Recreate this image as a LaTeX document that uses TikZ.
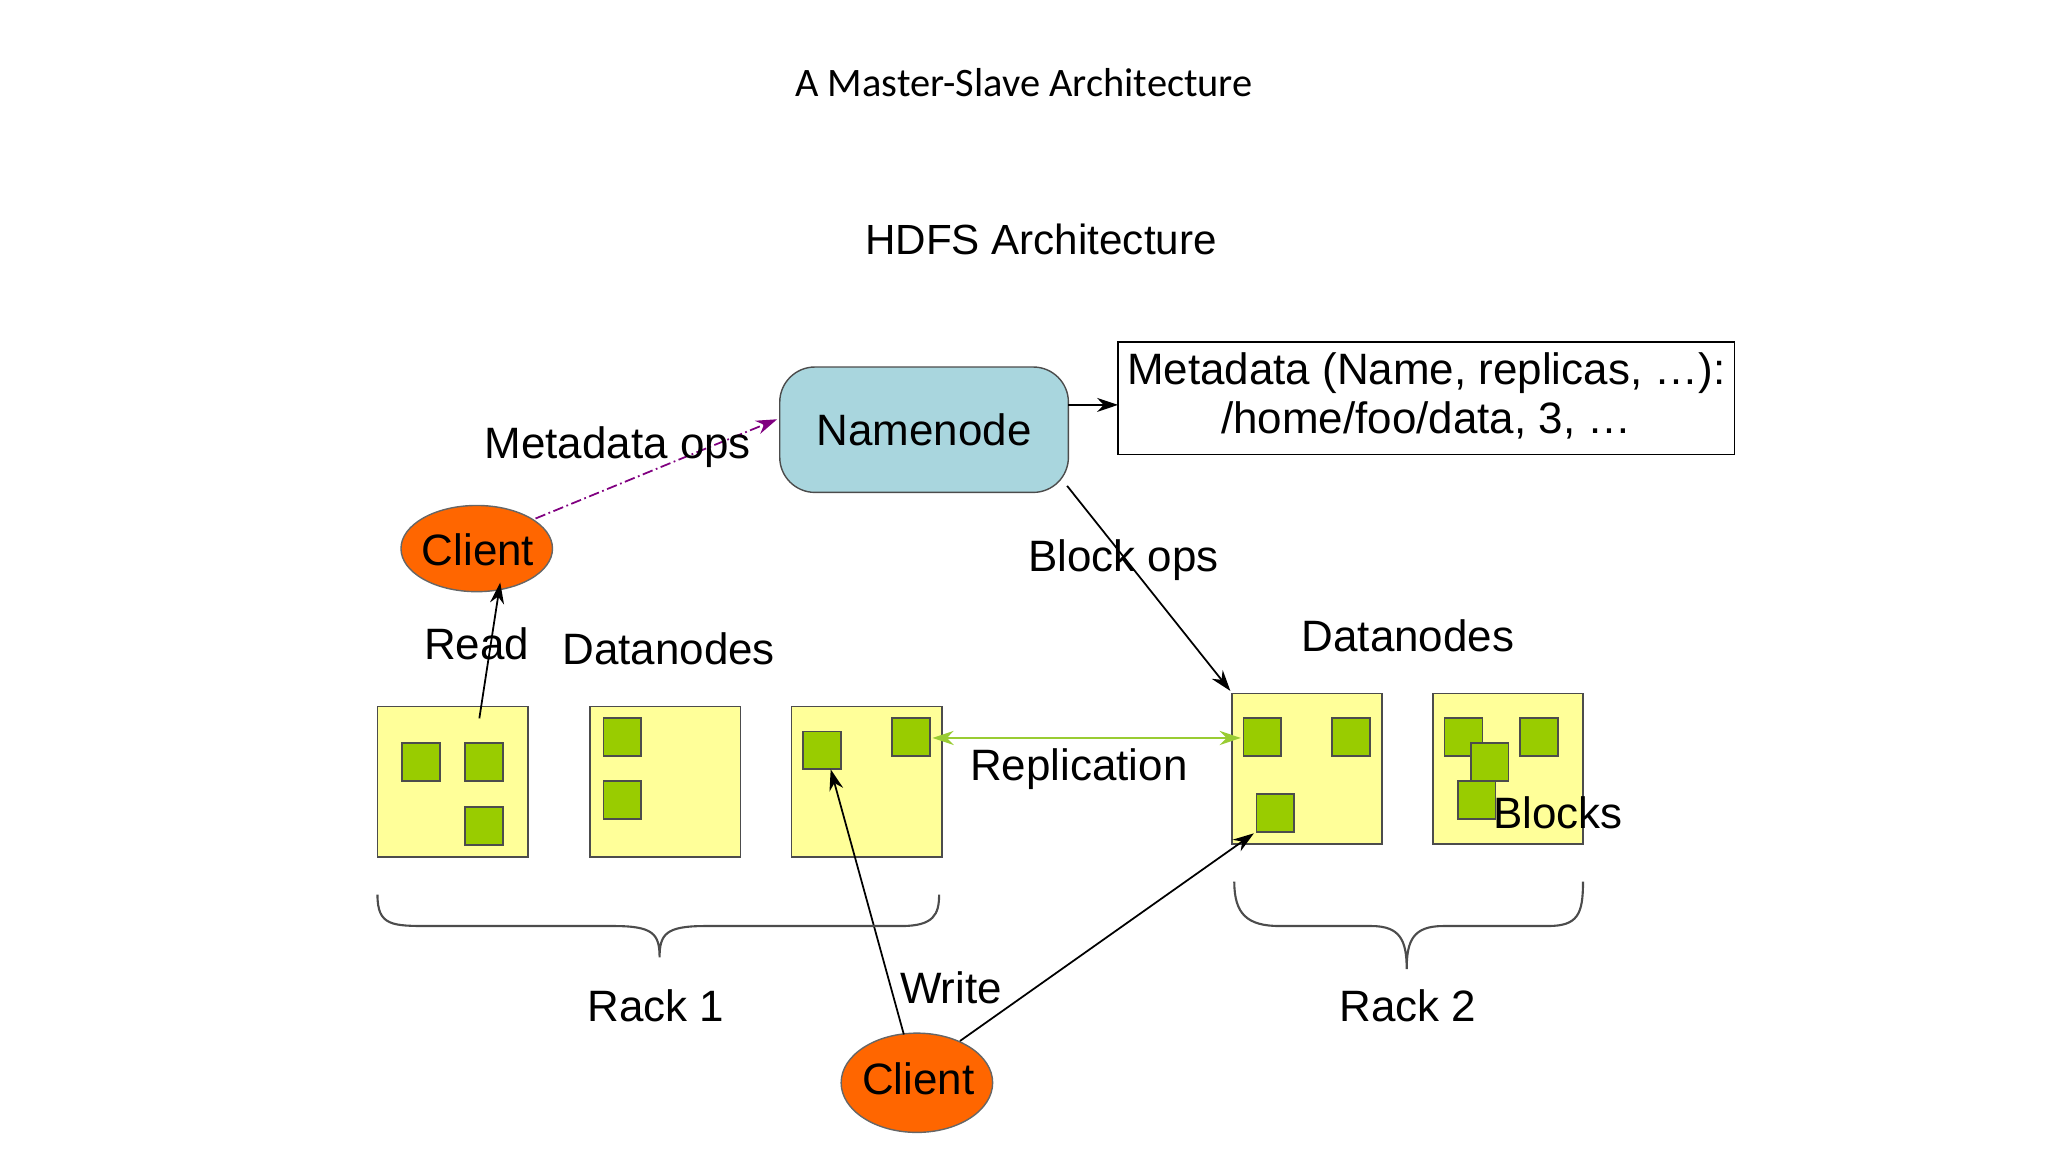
\documentclass[tikz,border=0pt]{standalone}
\usepackage{fontspec}
\setmainfont{Liberation Sans}
\newfontfamily\carl{Carlito}
\usetikzlibrary{arrows.meta,shapes.geometric}
\definecolor{nn}{HTML}{A9D6DE}
\definecolor{dn}{HTML}{FFFF99}
\definecolor{blk}{HTML}{99CC00}
\definecolor{cl}{HTML}{FF6600}
\definecolor{repl}{HTML}{99CC33}
\definecolor{meta}{HTML}{800080}
\begin{document}
\begin{tikzpicture}[x=0.013061cm,y=-0.013061cm,
  lbl/.style={font=\fontsize{12.5}{14}\selectfont,inner sep=0pt},
  dnode/.style={draw=black!70,fill=dn,line width=0.5pt},
  blkst/.style={draw=black!70,fill=blk,line width=0.5pt},
  client/.style={ellipse,draw=black!60,fill=cl,minimum width=116\pgflinewidth,font=\fontsize{12.5}{14}\selectfont},
  arr/.style={-{Stealth[length=6pt,width=4pt]},line width=0.5pt},
  brace/.style={line width=0.6pt,black!70}]
\useasboundingbox (0,0) rectangle (1568,882);
\node[font=\carl\fontsize{11.5}{14}\selectfont] (t1) at (784,63) {A Master-Slave Architecture};
\node[font=\fontsize{12}{14}\selectfont] (t2) at (797,183) {HDFS Architecture};
% namenode
\draw[fill=nn,draw=black!70,rounded corners=10pt] (597,281) rectangle (818,377);
\node[lbl] (nn) at (707.5,329) {Namenode};
\coordinate (nnR) at (818,310);
\draw (856,262) rectangle (1328,348);
\node[lbl,align=center] (md) at (1092,303) {Metadata (Name, replicas, \ldots):\\/home/foo/data, 3, \ldots};
\coordinate (mdL) at (856,310);
\draw[arr] (nnR) -- (mdL);
% clients
\draw[fill=cl,draw=black!60] (365,420) ellipse [x radius=58,y radius=33];
\node[lbl] (c1) at (366,421) {Client};
\draw[fill=cl,draw=black!60] (702,829) ellipse [x radius=58,y radius=38];
\node[lbl] (c2) at (703,826) {Client};
% metadata ops
\coordinate (c1a) at (410,397); \coordinate (nnL) at (595,321);
\draw[arr,meta,densely dash dot,-{Stealth[length=6pt,width=4pt]}] (c1a) -- (nnL);
\node[lbl] (mo) at (473,342) {Metadata ops};
% datanodes
\foreach \x/\y in {289/541,452/541,606/541,943/531,1097/531}
  \draw[dnode] (\x,\y) rectangle ++(115,115);
\foreach \x/\y in {308/569,356/569,356/618,462/550,462/598,615/560,683/550,952/550,1020/550,962/608,1106/550,1164/550,1126/569,1116/598}
  \draw[blkst] (\x,\y) rectangle ++(29,29);
\node[lbl] (dn1) at (512,497) {Datanodes};
\node[lbl] (dn2) at (1078,487) {Datanodes};
\node[lbl] (bl) at (1193,622) {Blocks};
% read
\coordinate (rd0) at (367,550); \coordinate (rd1) at (383,446);
\draw[arr] (rd0) -- (rd1);
\node[lbl] (rd) at (365,493) {Read};
% replication
\coordinate (r0) at (714,565); \coordinate (r1) at (950,565);
\draw[repl,line width=0.8pt,{Stealth[length=6pt,width=4pt]}-{Stealth[length=6pt,width=4pt]}] (r0) -- (r1);
\node[lbl] (rp) at (826,589) {Replication};
% block ops
\coordinate (b0) at (817,372); \coordinate (b1) at (942,529);
\draw[arr] (b0) -- (b1);
\node[lbl] (bo) at (860,429) {Block ops};
% write
\coordinate (w0) at (692,792); \coordinate (w1) at (636,589);
\coordinate (w2) at (735,797); \coordinate (w3) at (960,638);
\draw[arr] (w0) -- (w1);
\draw[arr] (w2) -- (w3);
\node[lbl] (wr) at (728,756) {Write};
% braces
\draw[brace] (289,685) .. controls (289,709) and (300,709) .. (330,709) -- (470,709) .. controls (500,709) and (505,715) .. (505,733)
  .. controls (505,715) and (510,709) .. (540,709) -- (690,709) .. controls (715,709) and (719,700) .. (719,685);
\draw[brace] (945,675) .. controls (945,700) and (955,709) .. (980,709) -- (1050,709) .. controls (1072,709) and (1077,720) .. (1077,742)
  .. controls (1077,720) and (1082,709) .. (1105,709) -- (1185,709) .. controls (1208,709) and (1212,700) .. (1212,675);
\node[lbl] (rk1) at (502,770) {Rack 1};
\node[lbl] (rk2) at (1078,770) {Rack 2};
\end{tikzpicture}
\end{document}
